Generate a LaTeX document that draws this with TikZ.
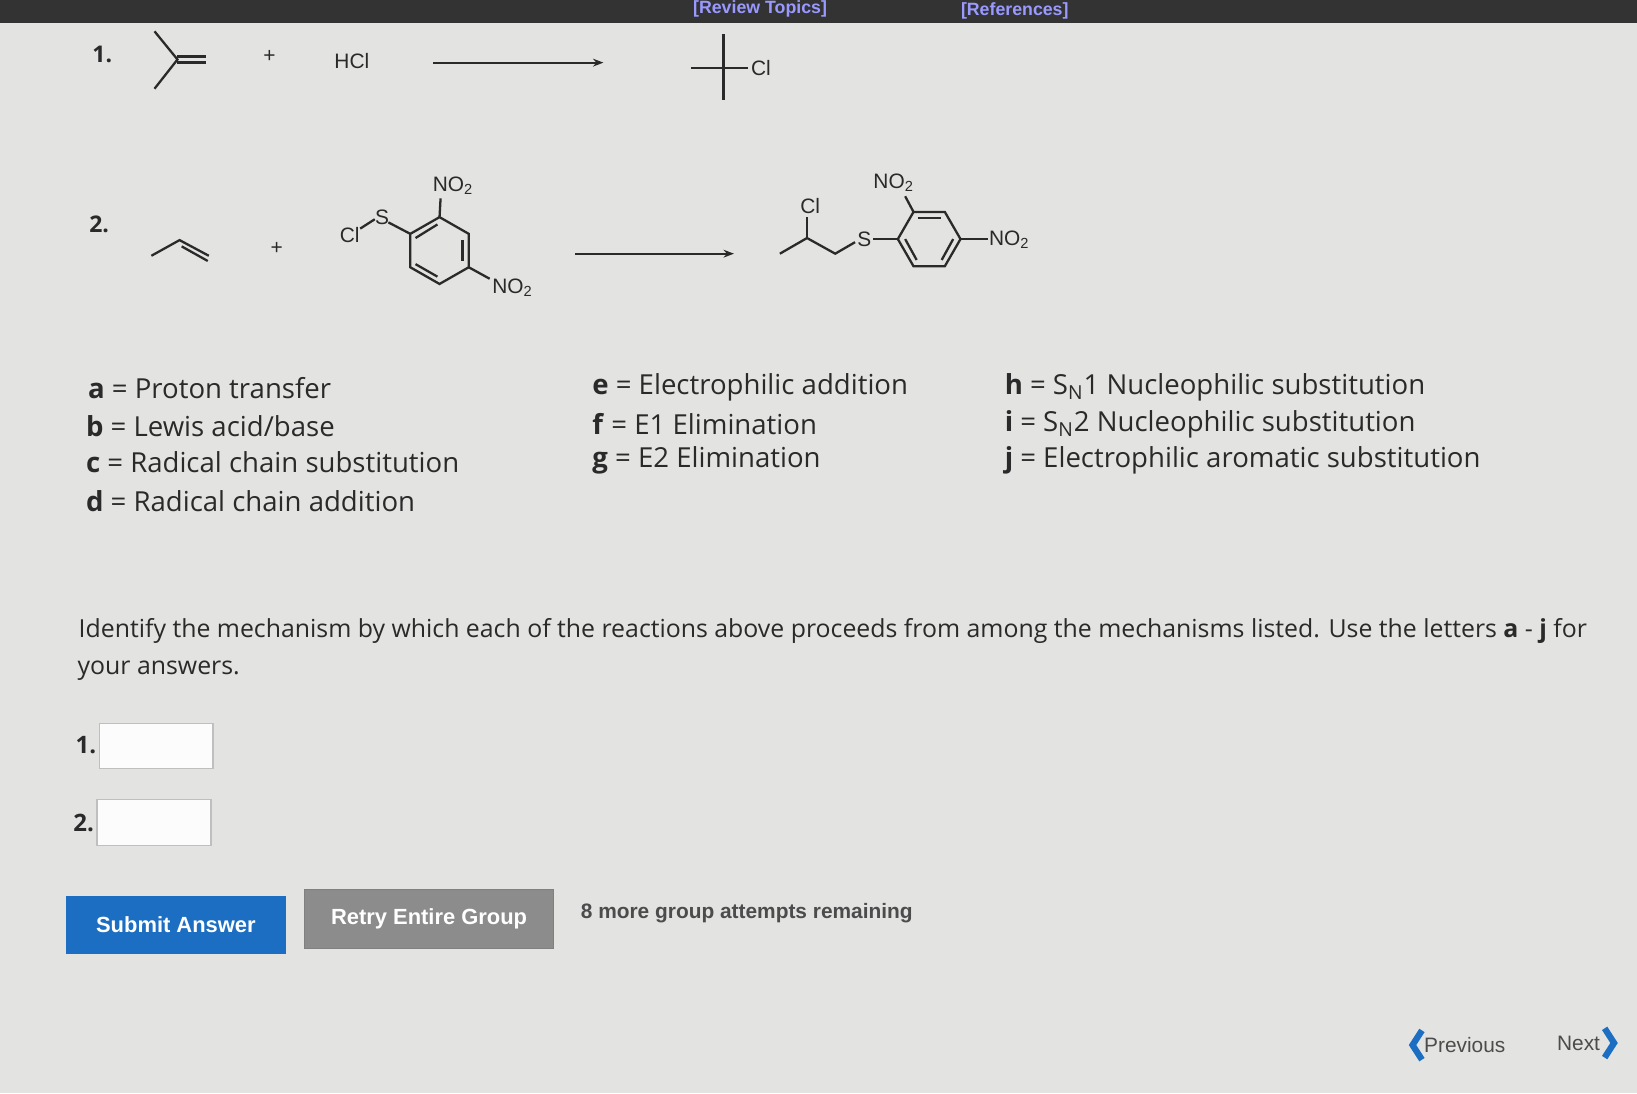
\documentclass[tikz,border=0pt]{standalone}
\usepackage{fontspec}
\setmainfont{Open Sans}
\newfontfamily\chem{Liberation Sans}
\usetikzlibrary{arrows.meta}
\definecolor{bg}{HTML}{E3E3E1}
\definecolor{btnblue}{HTML}{1B6EC2}
\definecolor{btngray}{HTML}{8C8C8C}
\definecolor{txt}{HTML}{2A2A2A}
\tikzset{bond/.style={line width=1.1pt,color=txt},
 lbl/.style={font=\chem\fontsize{10}{12}\selectfont,text=txt,inner sep=1pt},
 item/.style={font=\fontsize{13.2}{15}\selectfont,text=txt,anchor=west,inner sep=0pt},
 qtext/.style={font=\fontsize{11.9}{14}\selectfont,text=txt,anchor=west,inner sep=0pt},
 rarrow/.style={line width=0.9pt,color=txt,-{Stealth[length=5pt]}},
 box/.style={draw=gray!50,fill=white!90!bg,line width=0.6pt}}
\begin{document}
\begin{tikzpicture}[x=0.5pt,y=-0.5pt]
\useasboundingbox (0,0) rectangle (1568,1047);
\fill[bg] (0,0) rectangle (1568,1047);
\fill[black!80] (0,0) rectangle (1568,22);
\node[font=\chem\bfseries\fontsize{8.5}{10}\selectfont,text=blue!40!white] (rt) at (728,9) {[Review Topics]};
\node[font=\chem\bfseries\fontsize{8.5}{10}\selectfont,text=blue!40!white] (rf) at (972,10) {[References]};
% Reaction 1
\node[font=\bfseries\fontsize{11}{13}\selectfont,text=txt] (n1) at (98,52) {1.};
\coordinate (a1) at (148,30); \coordinate (a2) at (148,85); \coordinate (a3) at (170,57);
\draw[bond] (a1) -- (a3) -- (a2);
\draw[bond] (170,54) -- (197,54); \draw[bond] (170,60) -- (197,60);
\node[lbl] (p1) at (258,54) {+};
\node[lbl] (hcl) at (337,58) {HCl};
\coordinate (r1s) at (415,60); \coordinate (r1e) at (578,60);
\draw[rarrow] (r1s) -- (r1e);
\draw[bond] (693,33) -- (693,96); \draw[bond] (662,65) -- (716,65);
\node[lbl,anchor=west] (cl1) at (717,65) {Cl};
% Reaction 2
\node[font=\bfseries\fontsize{11}{13}\selectfont,text=txt] (n2) at (95,215) {2.};
\draw[bond] (145,245) -- (172,230) -- (200,245);
\draw[bond] (174,236) -- (199,250);
\node[lbl] (p2) at (265,238) {+};
\node[lbl] (cl2) at (335,225) {Cl};
\node[lbl] (s1) at (366,208) {S};
\draw[bond] (345,219) -- (359,210);
\draw[bond] (372,213) -- (393,224);
\draw[bond] (421,208) -- (449,224) -- (449,256) -- (421,272) -- (393,256) -- (393,224) -- cycle;
\draw[bond] (443,230) -- (443,250); \draw[bond] (419,265) -- (398,253); \draw[bond] (398,228) -- (419,215);
\draw[bond] (421,208) -- (422,190);
\node[lbl] (no2a) at (434,178) {NO\textsubscript{2}};
\draw[bond] (449,256) -- (469,267);
\node[lbl] (no2b) at (491,276) {NO\textsubscript{2}};
\coordinate (r2s) at (551,243); \coordinate (r2e) at (703,243);
\draw[rarrow] (r2s) -- (r2e);
\node[lbl] (cl3) at (776,197) {Cl};
\draw[bond] (747,243) -- (773,228) -- (800,243) -- (819,232);
\draw[bond] (773,228) -- (773,208);
\node[lbl] (s2) at (828,229) {S};
\draw[bond] (836,229) -- (860,229);
\draw[bond] (860,229) -- (875,203) -- (905,203) -- (920,229) -- (905,255) -- (875,255) -- cycle;
\draw[bond] (879,209) -- (901,209); \draw[bond] (913,229) -- (902,249); \draw[bond] (867,229) -- (878,249);
\draw[bond] (875,203) -- (867,188);
\node[lbl] (no2c) at (856,175) {NO\textsubscript{2}};
\draw[bond] (920,229) -- (946,229);
\node[lbl,anchor=west] (no2d) at (945,230) {NO\textsubscript{2}};
% mechanism list
\node[item] (la) at (84,372) {\textbf{a} = Proton transfer};
\node[item] (lb) at (82,408) {\textbf{b} = Lewis acid/base};
\node[item] (lc) at (82,443) {\textbf{c} = Radical chain substitution};
\node[item] (ld) at (82,480) {\textbf{d} = Radical chain addition};
\node[item] (le) at (567,371) {\textbf{e} = Electrophilic addition};
\node[item] (lf) at (567,406) {\textbf{f} = E1 Elimination};
\node[item] (lg) at (567,441) {\textbf{g} = E2 Elimination};
\node[item] (lh) at (962,371) {\textbf{h} = S\textsubscript{N}1 Nucleophilic substitution};
\node[item] (li) at (962,406) {\textbf{i} = S\textsubscript{N}2 Nucleophilic substitution};
\node[item] (lj) at (962,441) {\textbf{j} = Electrophilic aromatic substitution};
% question
\node[qtext] (q1) at (75,604) {Identify the mechanism by which each of the reactions above proceeds from among the mechanisms listed. Use the letters \textbf{a} - \textbf{j} for};
\node[qtext] (q2) at (74,642) {your answers.};
\node[item,font=\bfseries\fontsize{11.5}{13}\selectfont] (an1) at (72,714) {1.};
\draw[box] (95,693) rectangle (204,736);
\node[item,font=\bfseries\fontsize{11.5}{13}\selectfont] (an2) at (70,788) {2.};
\draw[box] (93,766) rectangle (202,810);
% buttons
\node[fill=btnblue,minimum width=105pt,minimum height=28pt,text=white,font=\chem\bfseries\fontsize{10.5}{12}\selectfont] (sub) at (168.5,886) {Submit Answer};
\node[fill=btngray,draw=gray,minimum width=119pt,minimum height=28pt,text=white,font=\chem\bfseries\fontsize{10.5}{12}\selectfont] (ret) at (411,880) {Retry Entire Group};
\node[item,font=\chem\bfseries\fontsize{10}{12}\selectfont,text=black!70] (rem) at (556,875) {8 more group attempts remaining};
\node[font=\chem\fontsize{10}{12}\selectfont,text=black!70] (prev) at (1403,1001) {Previous};
\draw[line width=3pt,color=btnblue] (1362,987) -- (1353,1001) -- (1362,1015);
\node[font=\chem\fontsize{10}{12}\selectfont,text=black!70] (next) at (1512,999) {Next};
\draw[line width=3pt,color=btnblue] (1537,985) -- (1546,999) -- (1537,1013);
\end{tikzpicture}
\end{document}
